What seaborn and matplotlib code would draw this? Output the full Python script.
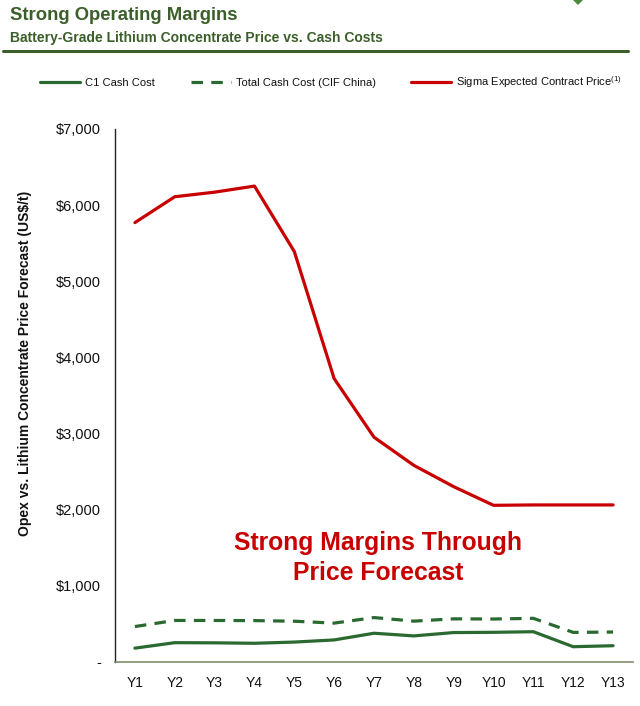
import matplotlib
matplotlib.use("Agg")
import matplotlib.pyplot as plt
from matplotlib.lines import Line2D
from matplotlib.patches import Polygon
import seaborn as sns
import pandas as pd

# ---- data ----
years = ["Y1", "Y2", "Y3", "Y4", "Y5", "Y6", "Y7", "Y8", "Y9", "Y10", "Y11", "Y12", "Y13"]
c1_cash_cost = [178, 250, 248, 242, 258, 286, 374, 339, 383, 386, 394, 197, 210]
total_cash_cost = [462, 542, 542, 540, 532, 507, 580, 533, 563, 561, 570, 385, 390]
sigma_price = [5770, 6110, 6170, 6250, 5390, 3720, 2950, 2580, 2300, 2055, 2060, 2060, 2060]
y_ticks = [0, 1000, 2000, 3000, 4000, 5000, 6000, 7000]
y_tick_labels = ["-", "$1,000", "$2,000", "$3,000", "$4,000", "$5,000", "$6,000", "$7,000"]
series_labels = ["C1 Cash Cost", "Total Cash Cost (CIF China)", "Sigma Expected Contract Price$^{(1)}$"]

GREEN = "#2a6a30"
TITLE_GREEN = "#3b5e2a"
RED = "#c80000"

sns.set_theme(style="white")
plt.rcParams["font.family"] = ["Liberation Sans", "DejaVu Sans"]
plt.rcParams["mathtext.fontset"] = "custom"
plt.rcParams["mathtext.rm"] = "Liberation Sans"
plt.rcParams["mathtext.it"] = "Liberation Sans"

W, H = 640, 706
fig = plt.figure(figsize=(W / 100, H / 100), dpi=100)
ax = fig.add_axes([115 / W, (H - 661.7) / H, 518 / W, 532.7 / H])

df = pd.DataFrame({"year": years, "c1": c1_cash_cost, "total": total_cash_cost, "price": sigma_price})

sns.lineplot(data=df, x="year", y="c1", ax=ax, color=GREEN, linewidth=2.3, sort=False)
sns.lineplot(data=df, x="year", y="total", ax=ax, color=GREEN, linewidth=2.3,
             linestyle=(0, (3.6, 2.6)), sort=False)
sns.lineplot(data=df, x="year", y="price", ax=ax, color=RED, linewidth=2.3, sort=False)

ax.set_xlim(-0.5, 12.5)
ax.set_ylim(0, 7000)
ax.set_yticks(y_ticks)
ax.set_yticklabels(y_tick_labels)
ax.tick_params(axis="y", length=0, pad=10, labelsize=10.5, labelcolor="#111111")
ax.tick_params(axis="x", length=0, pad=10, labelsize=10, labelcolor="#111111")
ax.set_xlabel("")
ax.set_ylabel("Opex vs. Lithium Concentrate Price Forecast (US$/t)", fontsize=10,
              fontweight="bold", color="#111111")
ax.yaxis.set_label_coords((32 - 115) / 518, (661.7 - 363) / 532.7)

for s in ["top", "right"]:
    ax.spines[s].set_visible(False)
ax.spines["left"].set_color("#222222")
ax.spines["left"].set_linewidth(1.0)
ax.spines["bottom"].set_color("#7d8c6c")
ax.spines["bottom"].set_linewidth(1.2)
ax.grid(False)

# legend
lines = ax.get_lines()
leg = fig.legend(lines[:3], series_labels, loc="center", bbox_to_anchor=(331 / W, 1 - 82 / H),
                 ncol=3, frameon=False, fontsize=8, handlelength=3.6, handletextpad=0.45,
                 columnspacing=3.2, borderpad=0)
for t in leg.get_texts():
    t.set_color("#111111")

# titles
fig.text(10 / W, 1 - 20 / H, "Strong Operating Margins", fontsize=13.3, fontweight="bold",
         color=TITLE_GREEN, ha="left", va="baseline")
fig.text(10 / W, 1 - 42 / H, "Battery-Grade Lithium Concentrate Price vs. Cash Costs", fontsize=10,
         fontweight="bold", color=TITLE_GREEN, ha="left", va="baseline")
fig.add_artist(Line2D([3 / W, 628 / W], [1 - 51 / H, 1 - 51 / H], color=TITLE_GREEN, linewidth=2.2))
fig.add_artist(Polygon([[573 / W, 1.0], [583 / W, 1.0], [578 / W, 1 - 5 / H]], closed=True,
                       transform=fig.transFigure, facecolor="#4a8a3a", edgecolor="none"))

# annotation
fig.text(378 / W, 1 - 558 / H, "Strong Margins Through\nPrice Forecast", fontsize=17.8,
         fontweight="bold", color=RED, ha="center", va="center", linespacing=1.3)

fig.savefig("out.png", dpi=100)
